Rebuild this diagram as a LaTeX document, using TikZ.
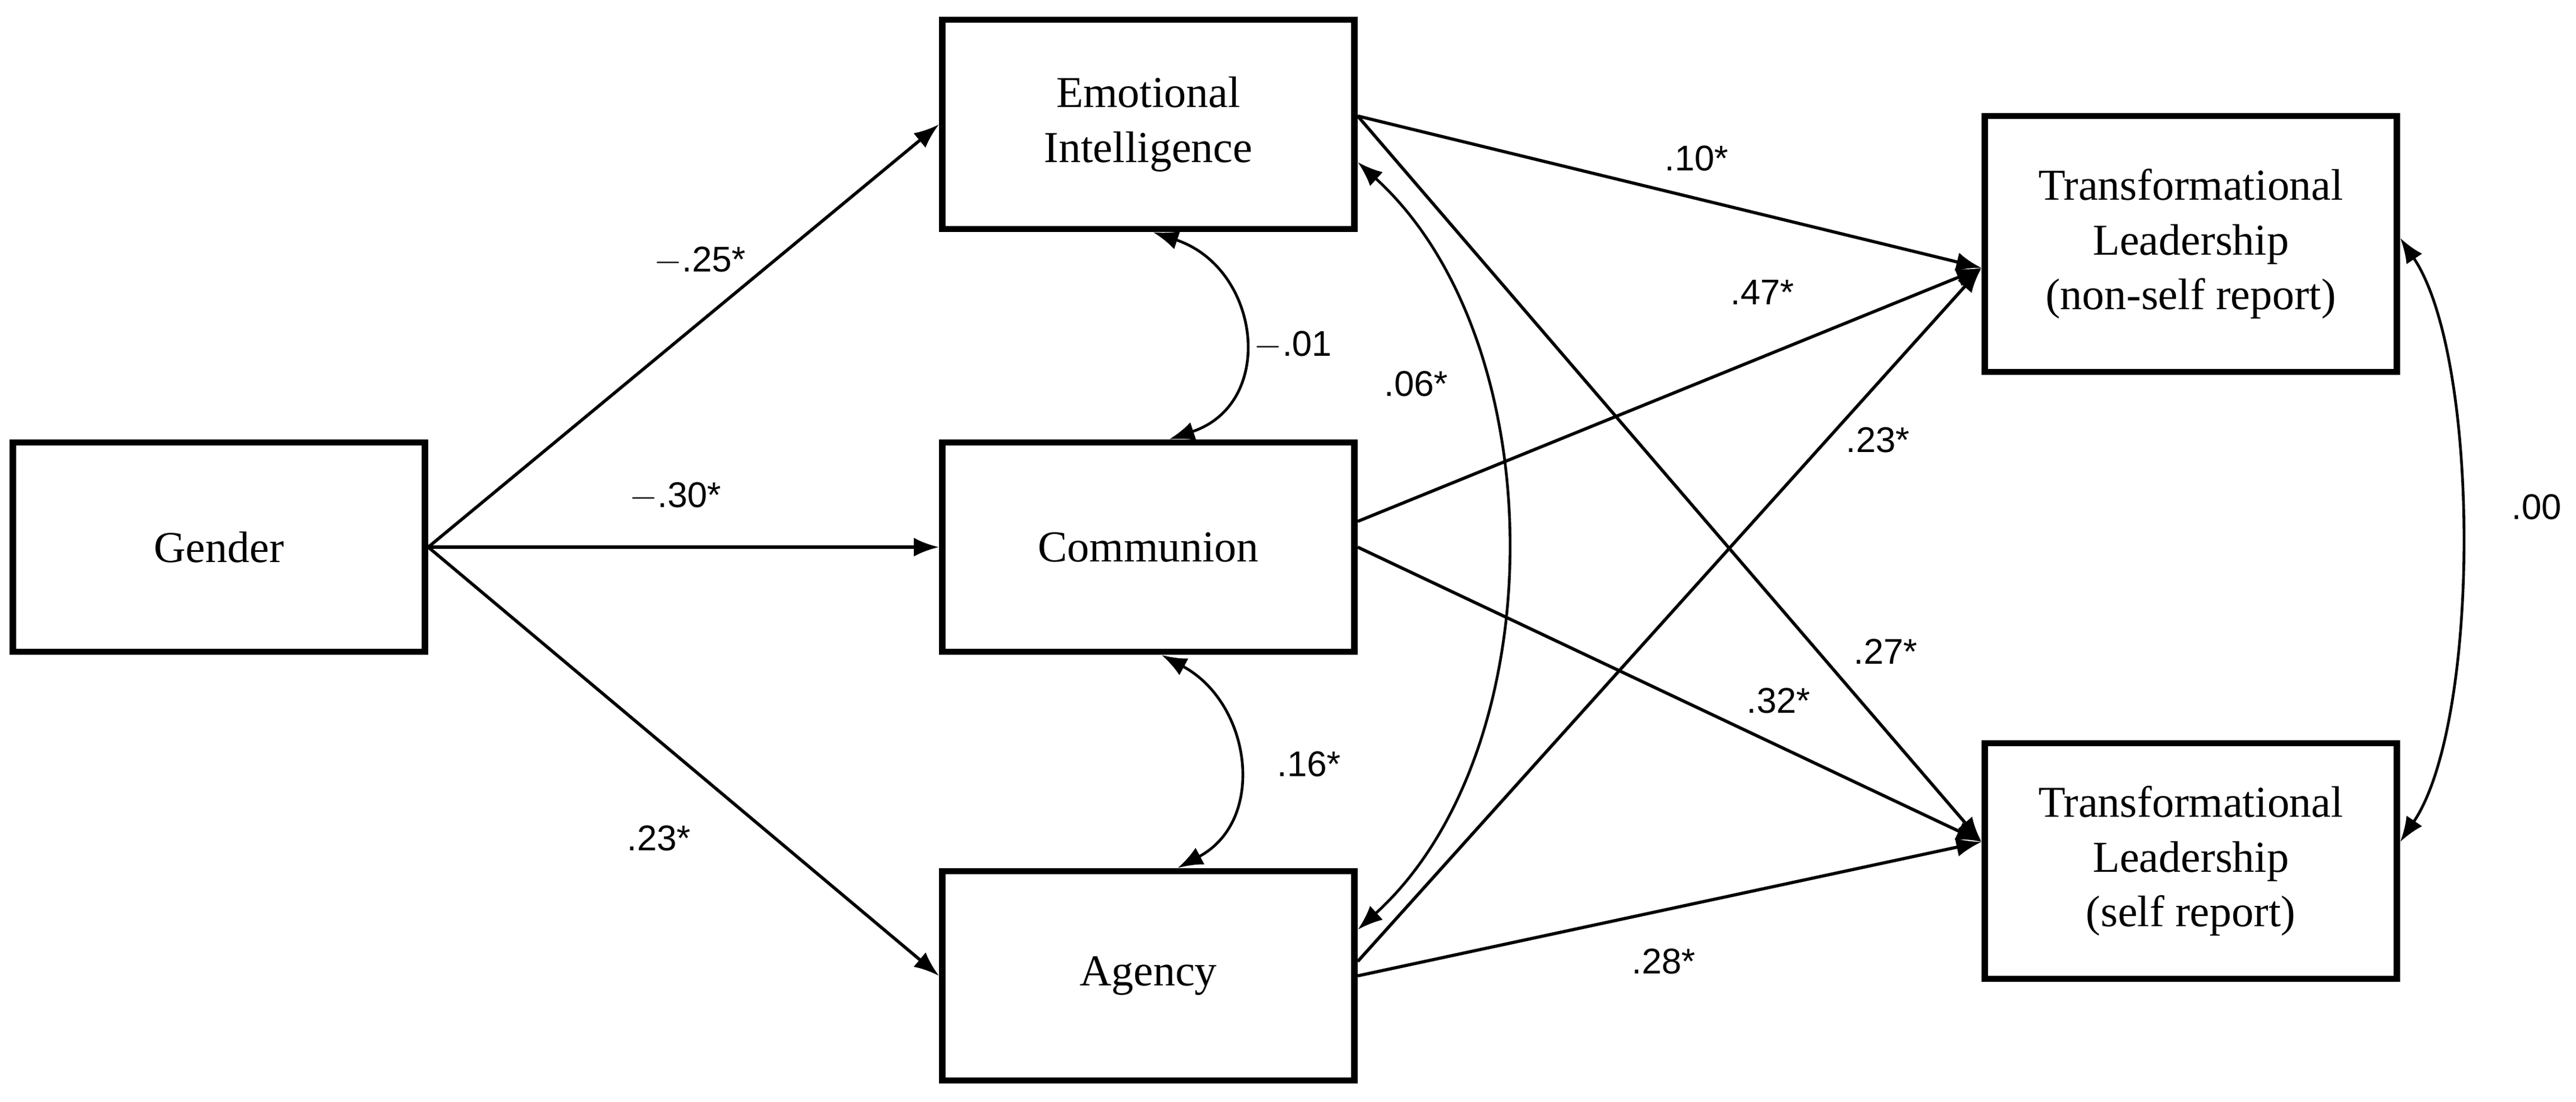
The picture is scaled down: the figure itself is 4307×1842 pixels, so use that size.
\documentclass[tikz,border=0pt]{standalone}
\usepackage{fontspec}
\setmainfont{Liberation Serif}
\newfontfamily\lblfont{Liberation Sans}
\usetikzlibrary{arrows.meta}
\begin{document}
\begin{tikzpicture}[x=0.01cm,y=-0.01cm,
  box/.style={draw,line width=3pt,minimum width=6.89cm,minimum height=3.5cm,inner sep=0pt,align=center,font=\fontsize{21}{26}\selectfont},
  arr/.style={line width=1.5pt,-{Latex[length=12pt,width=9pt]}},
  dbl/.style={line width=1.3pt,{Latex[length=12pt,width=9pt]}-{Latex[length=12pt,width=9pt]}},
  lbl/.style={font=\lblfont\fontsize{17}{20}\selectfont}]
\useasboundingbox (0,0) rectangle (4307,1842);
\node[box] (G) at (366,915) {Gender};
\node[box] (EI) at (1920,208) {Emotional\\Intelligence};
\node[box] (C) at (1920,915) {Communion};
\node[box] (A) at (1920,1632) {Agency};
\node[box,minimum height=4.28cm] (T1) at (3663,408) {Transformational\\Leadership\\(non-self report)};
\node[box,minimum height=3.94cm] (T2) at (3663,1440) {Transformational\\Leadership\\(self report)};
\draw[arr] (G.east) -- (EI.west);
\draw[arr] (G.east) -- (C.west);
\draw[arr] (G.east) -- (A.west);
\draw[arr] ([yshift=0.14cm]EI.east) -- ([yshift=-0.4cm]T1.west);
\draw[arr] ([yshift=0.14cm]EI.east) -- ([yshift=0.32cm]T2.west);
\draw[arr] ([yshift=0.43cm]C.east) -- ([yshift=-0.4cm]T1.west);
\draw[arr] (C.east) -- ([yshift=0.32cm]T2.west);
\draw[arr] ([yshift=0.24cm]A.east) -- ([yshift=-0.4cm]T1.west);
\draw[arr] (A.east) -- ([yshift=0.32cm]T2.west);
\draw[dbl] ([xshift=0.08cm]EI.south) .. controls +(180,60) and +(180,-60) .. ([xshift=0.35cm]C.north);
\draw[dbl] ([xshift=0.22cm]C.south) .. controls +(150,80) and +(150,-80) .. ([xshift=0.49cm]A.north);
\draw[dbl] ([yshift=-0.63cm]EI.east) .. controls +(330,300) and +(330,-300) .. ([yshift=0.77cm]A.east);
\draw[dbl] ([yshift=0.10cm]T1.east) .. controls +(135,200) and +(135,-200) .. ([yshift=0.32cm]T2.east);
\node[lbl] (l1) at (1170,436) {$-$.25*};
\node[lbl] (l2) at (1129,830) {$-$.30*};
\node[lbl] (l3) at (1102,1402) {.23*};
\node[lbl] (l4) at (2162,577) {$-$.01};
\node[lbl] (l5) at (2368,642) {.06*};
\node[lbl] (l6) at (2189,1278) {.16*};
\node[lbl] (l7) at (2837,265) {.10*};
\node[lbl] (l8) at (2947,489) {.47*};
\node[lbl] (l9) at (3140,736) {.23*};
\node[lbl] (l10) at (3153,1090) {.27*};
\node[lbl] (l11) at (2974,1172) {.32*};
\node[lbl] (l12) at (2782,1608) {.28*};
\node[lbl] (l13) at (4241,848) {.00};
\end{tikzpicture}
\end{document}
